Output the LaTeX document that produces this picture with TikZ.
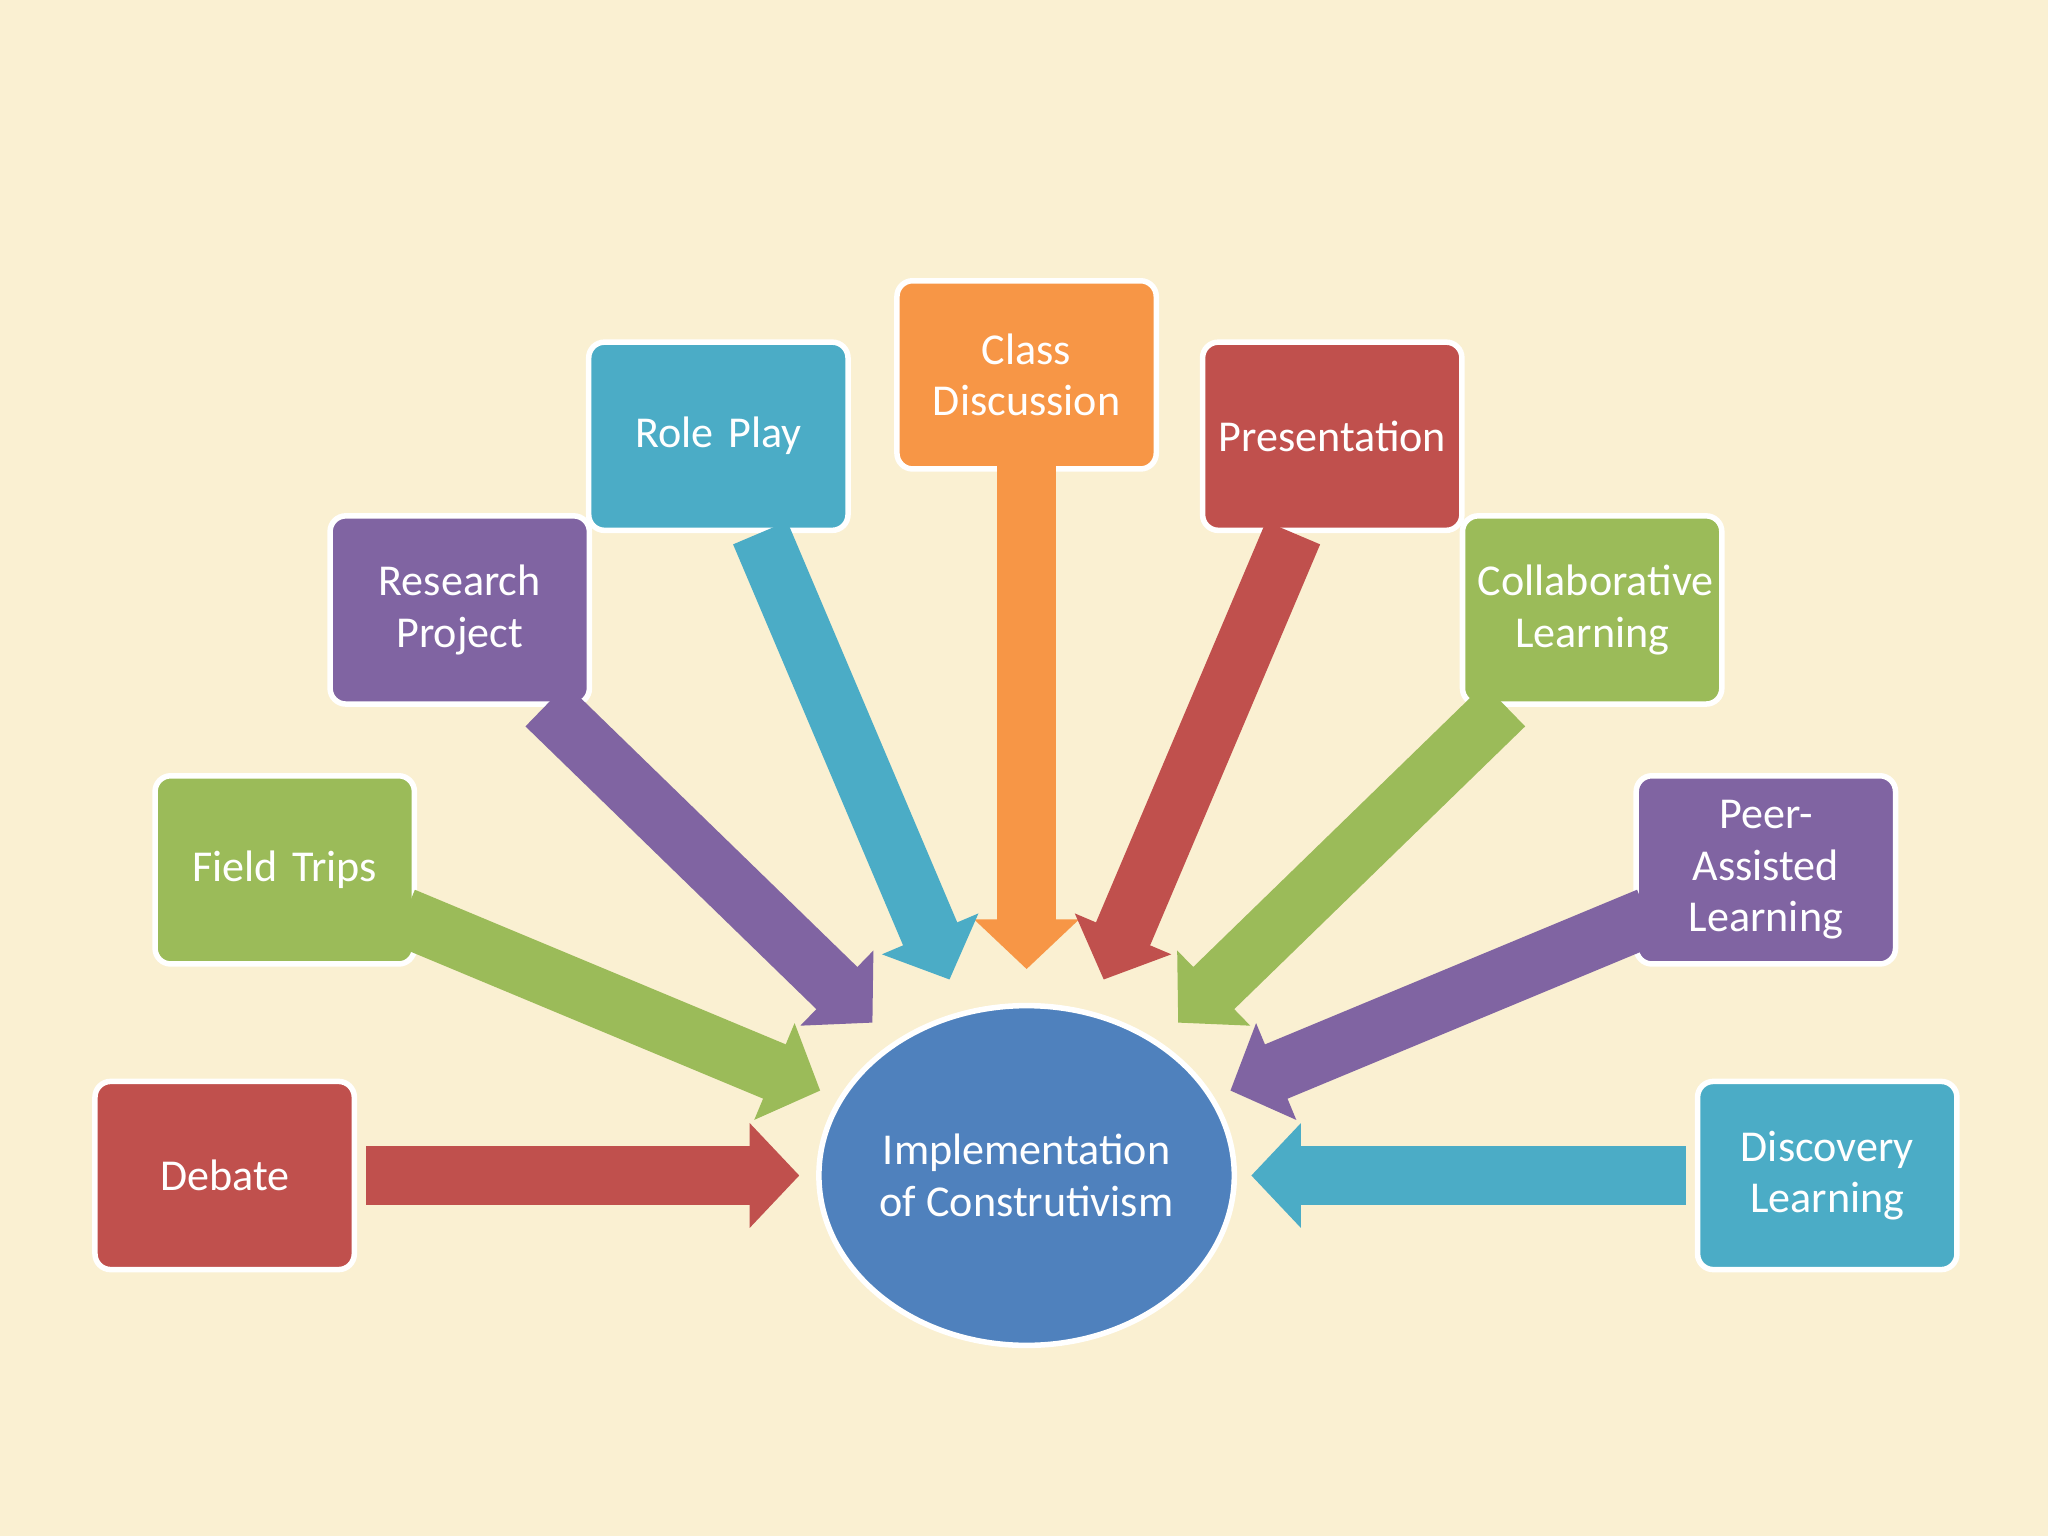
\documentclass[tikz,border=0pt]{standalone}
\usepackage{fontspec}
\setmainfont{Carlito}
\usetikzlibrary{arrows.meta,shapes.geometric}
\definecolor{cred}{HTML}{C0504D}
\definecolor{cpur}{HTML}{8064A2}
\definecolor{cblu}{HTML}{4BACC6}
\definecolor{cgrn}{HTML}{9BBB59}
\definecolor{cora}{HTML}{F79646}
\definecolor{cell}{HTML}{4F81BD}
\definecolor{bg}{HTML}{FAF0D2}
\tikzset{
 box/.style={draw=white,line width=1.2pt,rounded corners=0.12cm,minimum width=1.81cm,minimum height=1.44cm,text width=1.75cm,align=center,text=white,font=\fontsize{9.6}{11.2}\selectfont},
 blk/.style={line width=0.45cm,-{Triangle[width=0.78cm,length=0.38cm]}}
}
\begin{document}
\begin{tikzpicture}[x=0.01cm,y=-0.01cm]
\fill[bg] (0,0) rectangle (1568,1176);
\useasboundingbox (0,0) rectangle (1568,1176);
\node[box,fill=cora] (cd) at (786,287) {Class Discussion};
\node[box,fill=cblu] (rp) at (550,334) {Role Play};
\node[box,fill=cred] (pr) at (1020,334) {Presentation};
\node[box,fill=cpur] (rs) at (352,467) {Research Project};
\node[box,fill=cgrn] (cl) at (1219,467) {Collaborative Learning};
\node[box,fill=cgrn] (ft) at (218,666) {Field Trips};
\node[box,fill=cpur] (pa) at (1352,666) {Peer-\\Assisted Learning};
\node[box,fill=cred] (db) at (172,900) {Debate};
\node[box,fill=cblu] (dl) at (1399,900) {Discovery Learning};
\node[draw=white,line width=1.2pt,fill=cell,ellipse,minimum width=2.92cm,minimum height=2.6cm,inner sep=0pt,text=white,align=center,font=\fontsize{9.6}{11.2}\selectfont] (im) at (786,900) {Implementation\\of Construtivism};
\coordinate (tcd) at (786,742);
\coordinate (trp) at (727,750);
\coordinate (tpr) at (845,750);
\coordinate (trs) at (668,783);
\coordinate (tcl) at (902,783);
\coordinate (tft) at (628,835);
\coordinate (tpa) at (942,835);
\coordinate (tdb) at (612,900);
\coordinate (tdl) at (958,900);
\coordinate (srp) at (582,408);
\coordinate (spr) at (990,408);
\coordinate (srs) at (418,540);
\coordinate (scl) at (1152,540);
\coordinate (sft) at (309,702);
\coordinate (spa) at (1262,702);
\draw[blk,cora] ([yshift=4]cd.south) -- (tcd);
\draw[blk,cblu] (srp) -- (trp);
\draw[blk,cred] (spr) -- (tpr);
\draw[blk,cpur] (srs) -- (trs);
\draw[blk,cgrn] (scl) -- (tcl);
\draw[blk,cgrn] (sft) -- (tft);
\draw[blk,cpur] (spa) -- (tpa);
\draw[blk,cred] ([xshift=2]db.east) -- (tdb);
\draw[blk,cblu] ([xshift=-2]dl.west) -- (tdl);
\end{tikzpicture}
\end{document}
